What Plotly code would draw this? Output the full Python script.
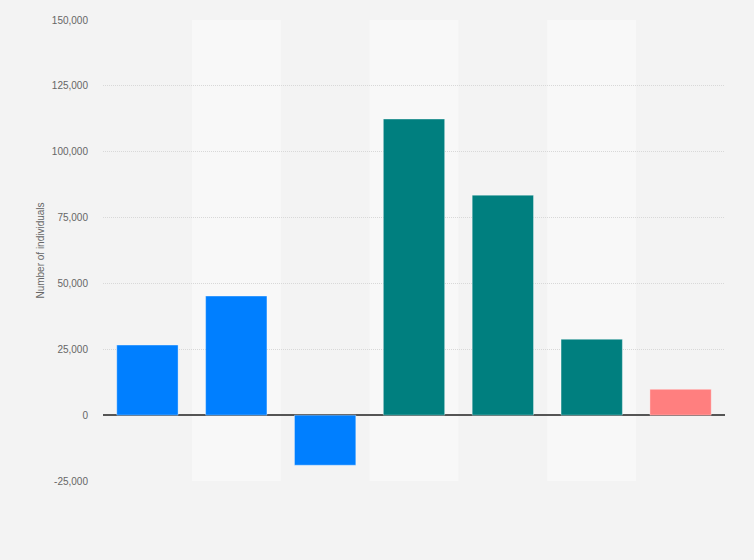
import plotly.graph_objects as go

# Seven columns, no category labels shown in the original
categories = ["1", "2", "3", "4", "5", "6", "7"]
values = [26600, 45200, -19000, 112400, 83500, 28800, 9800]
bar_colors = ["#007fff", "#007fff", "#007fff", "#007f7f", "#007f7f", "#007f7f", "#ff7f7f"]
tick_values = [-25000, 0, 25000, 50000, 75000, 100000, 125000, 150000]
tick_labels = ["-25,000", "0", "25,000", "50,000", "75,000", "100,000", "125,000", "150,000"]

fig = go.Figure()

fig.add_trace(go.Bar(
    x=categories,
    y=values,
    marker=dict(color=bar_colors, line=dict(color="rgba(255,255,255,0.35)", width=1)),
    showlegend=False,
    hoverinfo="y",
))

# lighter background bands on every second column
shapes = []
for i in range(len(categories)):
    if i % 2 == 1:
        shapes.append(dict(
            type="rect", xref="x", yref="paper",
            x0=i - 0.5, x1=i + 0.5, y0=0, y1=1,
            fillcolor="#f8f8f8", line=dict(width=0), layer="below",
        ))

fig.update_layout(
    width=754, height=560,
    paper_bgcolor="#f3f3f3",
    plot_bgcolor="#f3f3f3",
    margin=dict(l=103, r=29, t=20, b=79),
    bargap=0.31,
    shapes=shapes,
    font=dict(family="Liberation Sans, Arial, sans-serif", size=10, color="#666666"),
    xaxis=dict(
        showticklabels=False, showgrid=False, zeroline=False,
        range=[-0.5, len(categories) - 0.5],
    ),
    yaxis=dict(
        range=[-25000, 150000],
        tickvals=tick_values, ticktext=tick_labels,
        showgrid=True, gridcolor="#d8d8d8", griddash="1px,1px", gridwidth=1,
        zeroline=True, zerolinecolor="#555555", zerolinewidth=1.5,
        ticks="", ticklabelstandoff=14,
        title=dict(text="Number of individuals", standoff=5,
                   font=dict(size=10, color="#666666")),
    ),
)

# drop the default page margin so the figure sits at the window corner
fig.write_html("out.html", config={"displayModeBar": False},
               post_script="document.body.style.margin='0';")
